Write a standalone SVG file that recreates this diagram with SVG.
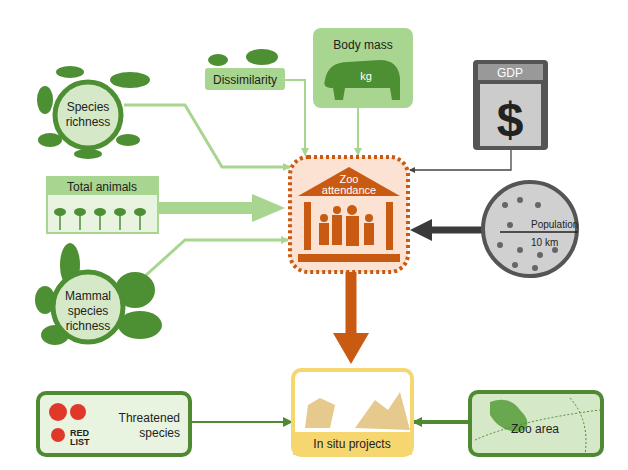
<svg xmlns="http://www.w3.org/2000/svg" width="628" height="470" viewBox="0 0 628 470">
<style>
text{font-family:"Liberation Sans",Arial,sans-serif;font-size:12px;fill:#222}
.gl{stroke:#a8d58f;fill:none}
.sil{fill:#4d8f33}
</style>
<defs>
<marker id="ga" markerWidth="8" markerHeight="8" refX="7" refY="4" orient="auto" markerUnits="userSpaceOnUse"><path d="M0,0L8,4L0,8z" fill="#a8d58f"/></marker>
<marker id="da" markerWidth="10" markerHeight="10" refX="9" refY="5" orient="auto" markerUnits="userSpaceOnUse"><path d="M0,0L10,5L0,10z" fill="#4f8a32"/></marker>
<marker id="ka" markerWidth="6" markerHeight="6" refX="5" refY="3" orient="auto" markerUnits="userSpaceOnUse"><path d="M0,0L6,3L0,6z" fill="#444"/></marker>
</defs>
<rect width="628" height="470" fill="#fff"/>
<g id="connectors">
<polyline class="gl" stroke-width="3" points="124,105 185,105 222,167 290,167" marker-end="url(#ga)"/>
<polyline class="gl" stroke-width="3" points="124,295 185,240 288,240" marker-end="url(#ga)"/>
<polyline class="gl" stroke-width="2" points="285,80 305,80 305,155" marker-end="url(#ga)"/>
<line class="gl" stroke-width="2" x1="358" y1="108" x2="358" y2="155" marker-end="url(#ga)"/>
<line stroke="#a8d58f" stroke-width="12" x1="158" y1="208" x2="255" y2="208"/>
<path d="M252,194L285,208L252,222z" fill="#a8d58f"/>
<polyline stroke="#444" fill="none" stroke-width="1.3" points="511,150 511,170 410,170" marker-end="url(#ka)"/>
<line stroke="#3a3a3a" stroke-width="7" x1="482" y1="230" x2="430" y2="230"/>
<path d="M432,219L410,230L432,241z" fill="#3a3a3a"/>
<line stroke="#c85a12" stroke-width="11" x1="351" y1="272" x2="351" y2="335"/>
<path d="M333,333L369,333L351,364z" fill="#c85a12"/>
<line stroke="#4f8a32" stroke-width="2" x1="190" y1="422" x2="292" y2="422" marker-end="url(#da)"/>
<line stroke="#4f8a32" stroke-width="4" x1="470" y1="422" x2="413" y2="422" marker-end="url(#da)"/>
</g>
<g id="species-richness">
<ellipse class="sil" cx="70" cy="72" rx="14" ry="6"/><ellipse class="sil" cx="130" cy="80" rx="20" ry="8"/>
<ellipse class="sil" cx="45" cy="100" rx="8" ry="14"/><ellipse class="sil" cx="50" cy="140" rx="12" ry="7"/>
<ellipse class="sil" cx="128" cy="140" rx="12" ry="6"/><ellipse class="sil" cx="88" cy="154" rx="14" ry="5"/>
<circle cx="88" cy="115" r="33" fill="#d5e8c8" stroke="#4d8f33" stroke-width="5"/>
<text x="88" y="111" text-anchor="middle">Species</text><text x="88" y="126" text-anchor="middle">richness</text>
</g>
<g id="total-animals">
<rect x="47" y="177" width="111" height="56" fill="#e8f3e0" stroke="#a8d58f" stroke-width="2"/>
<rect x="47" y="177" width="111" height="18" fill="#a8d58f"/>
<text x="102" y="191" text-anchor="middle">Total animals</text>
<g class="sil" fill="#4d8f33"><ellipse cx="60" cy="212" rx="6" ry="4"/><ellipse cx="80" cy="212" rx="6" ry="4"/><ellipse cx="100" cy="212" rx="6" ry="4"/><ellipse cx="120" cy="212" rx="6" ry="4"/><ellipse cx="140" cy="212" rx="6" ry="4"/></g>
<g stroke="#4d8f33" stroke-width="1.5"><line x1="60" y1="215" x2="60" y2="230"/><line x1="80" y1="215" x2="80" y2="230"/><line x1="100" y1="215" x2="100" y2="230"/><line x1="120" y1="215" x2="120" y2="230"/><line x1="140" y1="215" x2="140" y2="230"/></g>
</g>
<g id="mammal-richness">
<ellipse class="sil" cx="70" cy="265" rx="10" ry="22"/><ellipse class="sil" cx="135" cy="290" rx="20" ry="18"/>
<ellipse class="sil" cx="45" cy="300" rx="10" ry="14"/><ellipse class="sil" cx="140" cy="325" rx="22" ry="14"/>
<ellipse class="sil" cx="55" cy="335" rx="14" ry="10"/>
<circle cx="88" cy="307" r="35" fill="#d5e8c8" stroke="#4d8f33" stroke-width="5"/>
<text x="88" y="300" text-anchor="middle">Mammal</text><text x="88" y="315" text-anchor="middle">species</text><text x="88" y="330" text-anchor="middle">richness</text>
</g>
<g id="dissimilarity">
<ellipse class="sil" cx="218" cy="60" rx="10" ry="6" fill="#6aa84f"/><ellipse class="sil" cx="262" cy="57" rx="16" ry="8" fill="#6aa84f"/>
<rect x="205" y="68" width="80" height="22" rx="3" fill="#a8d58f"/>
<text x="245" y="84" text-anchor="middle">Dissimilarity</text>
</g>
<g id="body-mass">
<rect x="313" y="28" width="100" height="80" rx="8" fill="#a8d58f"/>
<text x="363" y="49" text-anchor="middle">Body mass</text>
<path d="M325,80 Q328,62 348,62 L380,60 Q398,60 400,78 L400,100 L392,100 L390,88 L345,88 L343,100 L335,100 L333,88 Q322,88 325,80z" fill="#4d8f33"/>
<text x="366" y="80" text-anchor="middle" style="fill:#fff;font-size:11px">kg</text>
</g>
<g id="gdp">
<rect x="473" y="60" width="75" height="90" rx="4" fill="#555"/>
<rect x="478" y="64" width="65" height="16" fill="#999"/>
<text x="510" y="77" text-anchor="middle" style="fill:#fff;font-size:12px">GDP</text>
<rect x="480" y="84" width="61" height="62" fill="#ccc"/>
<text x="510" y="136" text-anchor="middle" style="font-size:48px;font-weight:bold;fill:#222">$</text>
</g>
<g id="zoo-attendance">
<rect x="290" y="157" width="118" height="115" rx="18" fill="#fbe2d2" stroke="#c85a12" stroke-width="4" stroke-dasharray="3,3"/>
<path d="M298,196 L349,167 L400,196z" fill="#c85a12"/>
<text x="349" y="183" text-anchor="middle" style="fill:#fff;font-size:11px">Zoo</text>
<text x="349" y="194" text-anchor="middle" style="fill:#fff;font-size:11px">attendance</text>
<rect x="304" y="202" width="7" height="48" fill="#c85a12"/><rect x="386" y="202" width="7" height="48" fill="#c85a12"/>
<rect x="298" y="254" width="102" height="8" fill="#c85a12"/>
<g fill="#c85a12"><circle cx="324" cy="218" r="4"/><rect x="319" y="223" width="10" height="22"/><circle cx="337" cy="210" r="4"/><rect x="332" y="215" width="10" height="30"/><circle cx="352" cy="210" r="5"/><rect x="346" y="216" width="13" height="30"/><circle cx="369" cy="218" r="4"/><rect x="364" y="223" width="10" height="22"/></g>
</g>
<g id="population">
<circle cx="530" cy="229" r="47" fill="#d0d0d0" stroke="#555" stroke-width="4"/>
<g fill="#666"><circle cx="505" cy="205" r="3"/><circle cx="520" cy="200" r="3"/><circle cx="538" cy="205" r="3"/><circle cx="510" cy="225" r="3"/><circle cx="500" cy="245" r="3"/><circle cx="520" cy="250" r="3"/><circle cx="540" cy="255" r="3"/><circle cx="555" cy="250" r="3"/><circle cx="515" cy="265" r="3"/><circle cx="535" cy="268" r="3"/></g>
<text x="531" y="228" style="font-size:10px">Population</text>
<line x1="500" y1="232" x2="578" y2="232" stroke="#222" stroke-width="1.3"/>
<text x="531" y="246" style="font-size:10px">10 km</text>
</g>
<g id="in-situ">
<rect x="293" y="370" width="119" height="85" rx="8" fill="#fff" stroke="#f6d66e" stroke-width="4"/>
<rect x="293" y="432" width="119" height="23" fill="#f6d66e"/>
<path d="M355,428 L375,400 L388,410 L400,392 L410,430z" fill="#e6c98c"/>
<path d="M305,428 L308,405 L320,398 L335,405 L330,428z" fill="#e6c98c"/>
<text x="352" y="448" text-anchor="middle">In situ projects</text>
</g>
<g id="threatened">
<rect x="38" y="393" width="152" height="62" rx="8" fill="#e8f3e0" stroke="#4f8a32" stroke-width="4"/>
<circle cx="58" cy="412" r="9" fill="#e0392b"/><circle cx="78" cy="412" r="8" fill="#e0392b"/>
<circle cx="58" cy="435" r="7" fill="#e0392b"/>
<text x="70" y="436" style="font-size:9px;font-weight:bold">RED</text><text x="70" y="445" style="font-size:9px;font-weight:bold">LIST</text>
<text x="180" y="422" text-anchor="end">Threatened</text><text x="180" y="437" text-anchor="end">species</text>
</g>
<g id="zoo-area">
<rect x="470" y="392" width="132" height="63" rx="8" fill="#d5e8c8" stroke="#4f8a32" stroke-width="4"/>
<path d="M490,402 Q510,395 520,410 Q535,425 520,432 Q500,432 490,415z" fill="#6aa84f"/>
<path d="M475,440 Q520,420 600,410" stroke="#4f8a32" stroke-dasharray="2,2" fill="none"/>
<path d="M570,398 Q590,420 585,455" stroke="#4f8a32" stroke-dasharray="2,2" fill="none"/>
<text x="535" y="433" text-anchor="middle">Zoo area</text>
</g>
</svg>
